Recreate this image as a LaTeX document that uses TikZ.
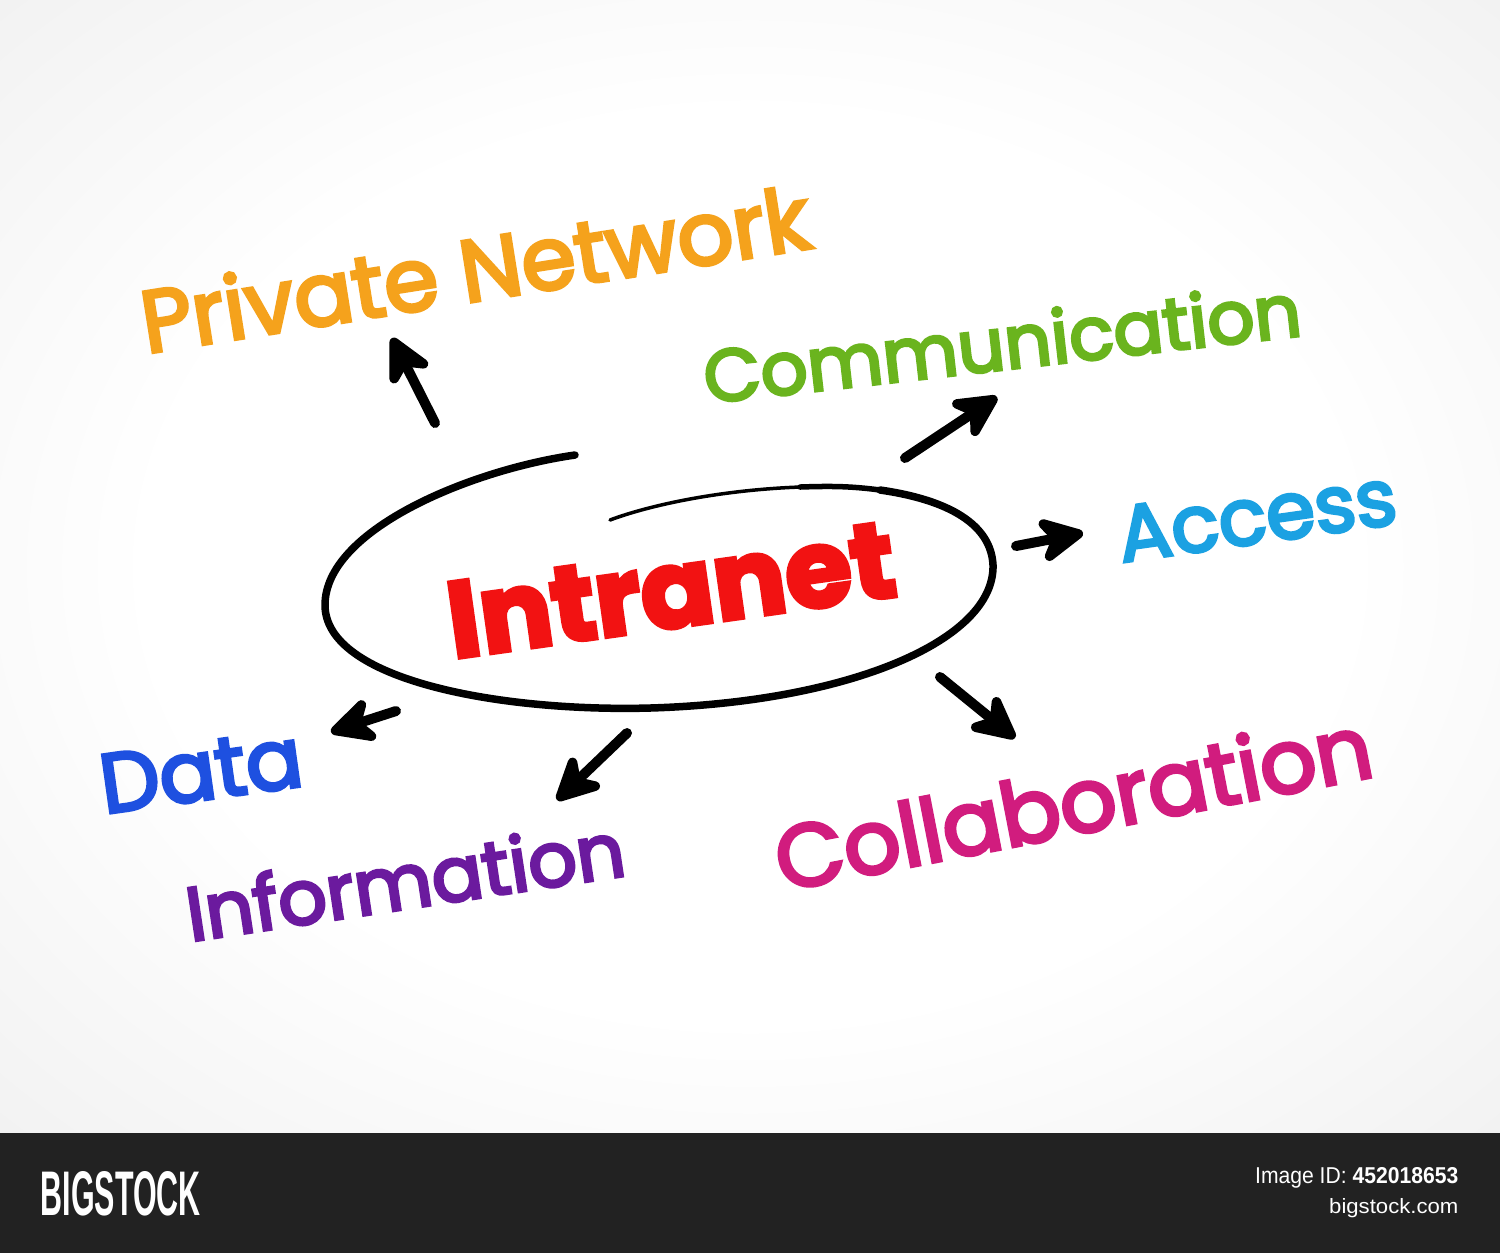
\documentclass[tikz,border=0pt]{standalone}
\usepackage{fontspec}
\setmainfont{Poppins}
\newfontfamily\marker{Poppins}[FakeBold=4]
\newfontfamily\barfont{Liberation Sans}
\usetikzlibrary{arrows.meta}
\definecolor{cOrange}{HTML}{F5A21C}
\definecolor{cGreen}{HTML}{6AB41E}
\definecolor{cAccess}{HTML}{1BA1E2}
\definecolor{cMagenta}{HTML}{D11C7E}
\definecolor{cPurple}{HTML}{6B1A9E}
\definecolor{cData}{HTML}{1E50E0}
\definecolor{cRed}{HTML}{F21212}
\definecolor{cBar}{HTML}{222222}
\pgfdeclareradialshading{bgshade}{\pgfpoint{0bp}{0bp}}{color(0bp)=(white); color(20bp)=(white); color(50bp)=(black!10); color(100bp)=(black!11)}
\begin{document}
\begin{tikzpicture}[x=0.01cm,y=-0.01cm,
  word/.style={inner sep=0pt, anchor=center, font=\marker},
  arr/.style={line width=0.1cm, line cap=round, line join=round,
    -{Stealth[round,length=0.56cm,width=0.56cm,inset=0.18cm]}},
  ring/.style={line width=0.075cm, line cap=round}]
\useasboundingbox (0,0) rectangle (1500,1253);
\shade[shading=bgshade] (0,0) rectangle (1500,1133);
\fill[cBar] (0,1133) rectangle (1500,1253);

% central ellipse stroke
\draw[ring] (575,455) .. controls (470,470) and (325,530) .. (325,605)
  .. controls (325,680) and (500,712) .. (650,708)
  .. controls (850,702) and (995,640) .. (993,565)
  .. controls (991,525) and (950,500) .. (880,490);
\draw[line width=0.055cm, line cap=round] (880,490) .. controls (850,486) and (830,486) .. (800,487);
\draw[line width=0.035cm, line cap=round] (800,487) .. controls (720,490) and (650,505) .. (610,520);

% words
\node[word, rotate=8] (intranet) at (671,590) {\resizebox{4.5cm}{!}{\color{cRed}\bfseries Intranet}};
\node[word, rotate=9] (private) at (475,268) {\resizebox{6.75cm}{!}{\color{cOrange}Private Network}};
\node[word, rotate=6.5] (comm) at (1002,342) {\resizebox{6.0cm}{!}{\color{cGreen}Communication}};
\node[word, rotate=8] (access) at (1257,516) {\resizebox{2.8cm}{!}{\color{cAccess}Access}};
\node[word, rotate=11] (collab) at (1073,801) {\resizebox{6.05cm}{!}{\color{cMagenta}Collaboration}};
\node[word, rotate=8.6] (info) at (405,880) {\resizebox{4.42cm}{!}{\color{cPurple}Information}};
\node[word, rotate=8] (data) at (201,771) {\resizebox{2.03cm}{!}{\color{cData}Data}};

% arrow end points
\coordinate (pA) at (435,423); \coordinate (pB) at (392,338);
\coordinate (cA) at (905,458); \coordinate (cB) at (997,397);
\coordinate (aA) at (1016,546); \coordinate (aB) at (1083,533);
\coordinate (lA) at (940,677); \coordinate (lB) at (1015,738);
\coordinate (iA) at (627,733); \coordinate (iB) at (557,800);
\coordinate (dA) at (396,711); \coordinate (dB) at (331,732);
\draw[arr] (pA) -- (pB);
\draw[arr] (cA) -- (cB);
\draw[arr] (aA) -- (aB);
\draw[arr] (lA) -- (lB);
\draw[arr] (iA) -- (iB);
\draw[arr] (dA) -- (dB);

% bottom bar texts
\node[inner sep=0pt, anchor=west, text=white] (logo) at (40,1194) {\resizebox{1.6cm}{0.44cm}{\barfont\bfseries BIGSTOCK}};
\node[inner sep=0pt, anchor=base east, text=white] (imgid) at (1459,1183) {\resizebox{2.03cm}{0.16cm}{\barfont Image ID: \textbf{452018653}}};
\node[inner sep=0pt, anchor=base east, text=white] (site) at (1459,1213) {\resizebox{1.29cm}{0.15cm}{\barfont bigstock.com}};
\end{tikzpicture}
\end{document}
